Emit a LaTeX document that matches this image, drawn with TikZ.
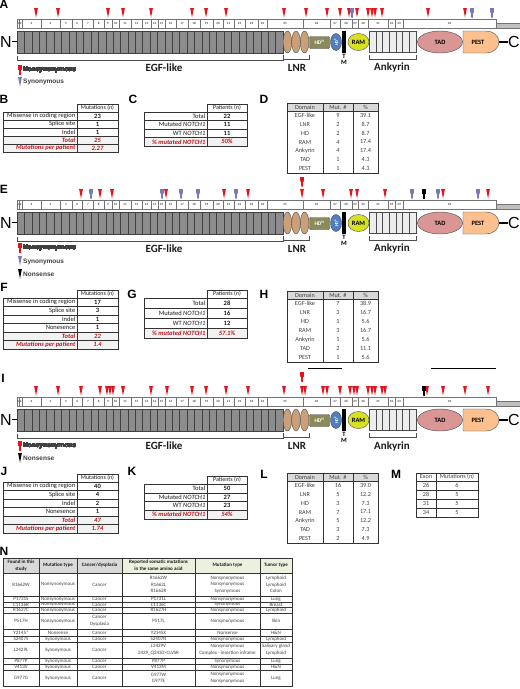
\documentclass[tikz,border=0pt]{standalone}
\usepackage{fontspec}
\setmainfont{Carlito}
\newfontfamily\arialf{Liberation Sans}
\usetikzlibrary{shapes.geometric}
\definecolor{ink}{HTML}{1A1A1A}
\definecolor{mutred}{HTML}{E3141B}
\definecolor{mutblue}{HTML}{7B78B8}
\definecolor{egfgray}{HTML}{8C8C8C}
\definecolor{lnrtan}{HTML}{C9A07A}
\definecolor{hdnolive}{HTML}{8B8A5C}
\definecolor{hdcblue}{HTML}{4F7FC0}
\definecolor{ramyellow}{HTML}{D7E021}
\definecolor{ankgray}{HTML}{EDEDED}
\definecolor{tadpink}{HTML}{D99694}
\definecolor{pestorange}{HTML}{FBC08E}
\definecolor{tailgray}{HTML}{BFBFBF}
\definecolor{totred}{HTML}{C0161C}
\definecolor{rowgray}{HTML}{F2F2F2}
\definecolor{hdrgray}{HTML}{D9D9D9}
\definecolor{hdrgreen}{HTML}{EBF1DE}
\definecolor{txtgray}{HTML}{404040}

\newcommand{\fs}[1]{\fontsize{#1}{#1}\selectfont}
\newcommand{\tot}[1]{\textcolor{totred}{\bfseries\itshape #1}}
\newcommand{\mut}[3]{\fill[#3] ({#1-1.9},#2) -- ({#1+1.9},#2) -- (#1,{#2+9.5}) -- cycle;}

% one NOTCH1 map: exon bar, domains, brackets
\newcommand{\notchmap}[2]{%
\begin{scope}[shift={(0,#1)}]
  \foreach \xa/\xb/\ex in {17/19.5/1,19.5/22/2,22/41/3,41/60/4,60/72/5,72/82.5/6,82.5/93.5/7,93.5/104/8,104/112/9,112/119/10,119/131/11,131/142/12,142/151/13,151/158/14,158/165/15,165/176/16,176/188/17,188/200/18,200/213/19,213/223/20,223/234/21,234/245/22,245/258/23,258/267/24,267/303/25,303/330/26,330/340/27,340/352/28,352/358/29,358/368/30,368/388/31,388/395/32,395/403/33,403/496/34}{
    \draw[exonbox] (\xa,19.5) rectangle (\xb,28);
    \node[exonnum] (ex\ex#2) at ({(\xa+\xb)/2},23.75) {\ex};
  }
  \draw[exonbox,fill=tailgray] (496,22.7) rectangle (520,28);
  \foreach \k in {0,...,35}
    \draw[egfcell] ({17+7.39*\k},31) rectangle ({17+7.39*(\k+1)},53);
  \foreach \cx [count=\j] in {287.4,296,304.6}
    \node[dom,ellipse,fill=lnrtan,minimum width=8.6pt,minimum height=22pt] (lnr\j#2) at (\cx,42) {};
  \node[dom,rounded corners=1pt,fill=hdnolive,minimum width=20pt,minimum height=12pt,font=\fs{5.5}\bfseries,text=white] (hdn#2) at (319.5,42.5) {HD\textsuperscript{N}};
  \node[dom,ellipse,fill=hdcblue,minimum width=17pt,minimum height=11pt,rotate=90,font=\fs{4.5}\bfseries,text=white] (hdc#2) at (336,42) {HD\textsuperscript{C}};
  \node[fill=black,minimum width=4pt,minimum height=22pt,inner sep=0pt] (tm#2) at (344,42) {};
  \node[font=\fs{6.5}\bfseries,inner sep=0pt] (tmt#2) at (344,56) {T};
  \node[font=\fs{6.5}\bfseries,inner sep=0pt] (tmm#2) at (344,62.5) {M};
  \node[dom,ellipse,fill=ramyellow,minimum width=21pt,minimum height=17pt,font=\fs{6.5}\bfseries] (ram#2) at (358.5,42) {RAM};
  \foreach \k in {0,...,6}
    \draw[ankcell] ({369+6.7*\k},31.5) rectangle ({369+6.7*(\k+1)},52.5);
  \node[dom,ellipse,fill=tadpink,minimum width=45pt,minimum height=22pt,font=\fs{6.5}\bfseries] (tad#2) at (440,42) {TAD};
  \draw[dom,fill=pestorange] (463,31) -- (486,31) arc[start angle=90,end angle=-90,x radius=13pt,y radius=11pt] -- (463,53) -- cycle;
  \node[font=\fs{6.5}\bfseries,inner sep=0pt] (pest#2) at (478,42) {PEST};
  \node[font=\arialf\fs{16},inner sep=0pt] (nterm#2) at (6,41.5) {N};
  \coordinate (egfw#2) at (17,41.5);
  \draw[line width=1.2pt] (nterm#2.east) -- (egfw#2);
  \node[font=\arialf\fs{16},inner sep=0pt] (cterm#2) at (514,42) {C};
  \coordinate (peste#2) at (499,42);
  \draw[line width=1.2pt] (peste#2) -- (cterm#2.west);
  \draw[brace] (17,56) -- (17,60.5) -- (283,60.5) -- (283,56);
  \draw[brace] (283,55) -- (283,59) -- (309,59) -- (309,55);
  \draw[brace] (369,55) -- (369,59) -- (416,59) -- (416,55);
  \node[domlabel] (egflab#2) at (164,68) {EGF-like};
  \node[domlabel] (lnrlab#2) at (297,68) {LNR};
  \node[domlabel] (anklab#2) at (392,68) {Ankyrin};
\end{scope}}

% mutations table (B, F, J)
\newcommand{\muttable}[4]{%
  \draw[tabline] (77,#2) rectangle (118,{#2+8});
  \node[cell,font=\fs{6}] (#1hdr) at (97.5,{#2+4}) {Mutations (\textit{n})};
  \foreach \lab/\val/\fc [count=\i] in {#4} {
    \pgfmathsetmacro{\ya}{#2+8+(\i-1)*#3}
    \pgfmathsetmacro{\yb}{#2+8+\i*#3}
    \draw[tabline,fill=\fc] (3,\ya) rectangle (77,\yb);
    \draw[tabline,fill=\fc] (77,\ya) rectangle (118,\yb);
    \node[cell,anchor=east] (#1l\i) at (76,{(\ya+\yb)/2}) {\lab};
    \node[cell,font=\fs{6.5}\bfseries] (#1v\i) at (97.5,{(\ya+\yb)/2}) {\val};
  }
}

% patients table (C, G, K)
\newcommand{\pattable}[4]{%
  \draw[tabline] (207,#2) rectangle (247,{#2+8});
  \node[cell,font=\fs{6}] (#1hdr) at (227,{#2+4}) {Patients (\textit{n})};
  \foreach \lab/\val/\fc [count=\i] in {#4} {
    \pgfmathsetmacro{\ya}{#2+8+(\i-1)*#3}
    \pgfmathsetmacro{\yb}{#2+8+\i*#3}
    \draw[tabline,fill=\fc] (144,\ya) rectangle (207,\yb);
    \draw[tabline,fill=\fc] (207,\ya) rectangle (247,\yb);
    \node[cell,anchor=east] (#1l\i) at (206,{(\ya+\yb)/2}) {\lab};
    \node[cell,font=\fs{6.5}\bfseries] (#1v\i) at (227,{(\ya+\yb)/2}) {\val};
  }
}

% domain table (D, H, L)
\newcommand{\domtable}[4]{%
  \fill[hdrgray] (287,#2) rectangle (378,{#2+8});
  \draw[tabline] (287,#2) rectangle (378,{#2+8+7*#3});
  \draw[tabline] (287,{#2+8}) -- (378,{#2+8});
  \draw[tabline] (323,#2) -- (323,{#2+8+7*#3});
  \draw[tabline] (353,#2) -- (353,{#2+8+7*#3});
  \node[dcell] (#1hd) at (305,{#2+4}) {Domain};
  \node[dcell] (#1hm) at (338,{#2+4}) {Mut. \#};
  \node[dcell] (#1hp) at (365.5,{#2+4}) {\%};
  \foreach \dm/\nm/\pc [count=\i] in {#4} {
    \pgfmathsetmacro{\yc}{#2+8+(\i-0.5)*#3}
    \node[dcell] (#1d\i) at (305,\yc) {\dm};
    \node[dcell] (#1m\i) at (338,\yc) {\nm};
    \node[dcell] (#1p\i) at (365.5,\yc) {\pc};
  }
}

\begin{document}
\begin{tikzpicture}[x=1pt,y=-1pt,
  exonbox/.style={draw=black!55,line width=0.3pt,fill=white},
  exonnum/.style={font=\fs{3.2},inner sep=0pt},
  egfcell/.style={draw=black!75,line width=0.35pt,fill=egfgray},
  ankcell/.style={draw=black!70,line width=0.35pt,fill=ankgray},
  dom/.style={draw=black!70,line width=0.4pt,inner sep=0pt},
  domlabel/.style={font=\fs{11}\bfseries,text=ink,inner sep=0pt},
  brace/.style={draw=black!70,line width=0.5pt},
  tabline/.style={draw=black!80,line width=0.35pt},
  cell/.style={font=\fs{6.5},inner sep=0.5pt,text=ink},
  dcell/.style={font=\fs{6.2},inner sep=0pt,text=txtgray},
  ncell/.style={font=\fontsize{5}{6.7}\selectfont,inner sep=0pt,text=txtgray,align=center},
  panel/.style={font=\arialf\bfseries\fs{12},inner sep=0pt},
  legend/.style={font=\arialf\fs{6.5}\bfseries,anchor=west,inner sep=0pt,text=txtgray}]
\useasboundingbox (0,0) rectangle (520,689);
\fill[white] (0,0) rectangle (520,689);

% ---------- A ----------
\node[panel] (pA) at (4,4) {A};
\notchmap{0}{A}
\foreach \x in {36,58,108,123,151,192,206,226,284,306,327,340,349,357,368,372,375,382,428,465}
  \mut{\x}{8}{mutred}
\foreach \x in {352,472,492}
  \mut{\x}{8}{mutblue}
\mut{20}{65}{mutred}
\node[legend] (lgA1) at (23,70) {Nonsynonymous};
\mut{20}{77}{mutblue}
\node[legend] (lgA2) at (23,82) {Synonymous};

% ---------- B C D ----------
\node[panel] (pB) at (4,99) {B};
\muttable{B}{104}{8}{Missense in coding region/23/white, Splice site/1/white, Indel/1/white, \tot{Total}/\tot{25}/rowgray, \tot{Mutations per patient}/\tot{2.27}/rowgray}
\node[panel] (pC) at (133,99) {C};
\pattable{C}{104}{8.5}{Total/22/white, Mutated \textit{NOTCH1}/11/white, WT \textit{NOTCH1}/11/white, \tot{\% mutated NOTCH1}/\tot{50\%}/rowgray}
\node[panel] (pD) at (264,99) {D};
\domtable{D}{103}{8.86}{EGF-like/9/39.1, LNR/2/8.7, HD/2/8.7, RAM/4/17.4, Ankyrin/4/17.4, TAD/1/4.3, PEST/1/4.3}

% ---------- E ----------
\node[panel] (pE) at (4,189) {E};
\notchmap{181}{E}
\foreach \x in {81,100,112,166,224,248,302,323,351,357,385,443,488}
  \mut{\x}{189}{mutred}
\mut{302}{177}{mutred}
\foreach \x in {91,162,181,198,236,412,438,478}
  \mut{\x}{189}{mutblue}
\mut{424}{189}{black}
\mut{20}{243}{mutred}
\node[legend] (lgE1) at (23,248) {Nonsynonymous};
\mut{20}{256}{mutblue}
\node[legend] (lgE2) at (23,261.5) {Synonymous};
\mut{20}{269}{black}
\node[legend] (lgE3) at (23,274) {Nonsense};

% ---------- F G H ----------
\node[panel] (pF) at (4,287) {F};
\muttable{F}{290}{8.5}{Missense in coding region/17/white, Splice site/3/white, Indel/1/white, Nonesence/1/white, \tot{Total}/\tot{22}/rowgray, \tot{Mutations per patient}/\tot{1.4}/rowgray}
\node[panel] (pG) at (132,294) {G};
\pattable{G}{290}{10}{Total/28/white, Mutated \textit{NOTCH1}/16/white, WT \textit{NOTCH1}/12/white, \tot{\% mutated NOTCH1}/\tot{57.1\%}/rowgray}
\node[panel] (pH) at (264,294) {H};
\domtable{H}{291}{9}{EGF-like/7/38.9, LNR/3/16.7, HD/1/5.6, RAM/3/16.7, Ankyrin/1/5.6, TAD/2/11.1, PEST/1/5.6}

% ---------- I ----------
\draw[line width=0.8pt] (308,368) -- (342,368);
\draw[line width=0.8pt] (431,368) -- (496,368);
\node[panel] (pI) at (3,378) {I};
\notchmap{378}{I}
\foreach \x in {36,58,81,100,107,110,113,123,151,167,192,206,226,248,284,302,305,323,327,340,350,354,357,368,372,375,382,385,427,443,465,488}
  \mut{\x}{386}{mutred}
\mut{302}{372}{mutred}
\mut{424}{386}{black}
\mut{20}{441}{mutred}
\node[legend] (lgI1) at (23,446) {Nonsynonymous};
\mut{20}{453}{black}
\node[legend] (lgI2) at (23,458) {Nonsense};

% ---------- J K L M ----------
\node[panel] (pJ) at (4,471) {J};
\muttable{J}{474}{8.5}{Missense in coding region/40/white, Splice site/4/white, Indel/2/white, Nonesence/1/white, \tot{Total}/\tot{47}/rowgray, \tot{Mutations per patient}/\tot{1.74}/rowgray}
\node[panel] (pK) at (132,471) {K};
\pattable{K}{476}{8.75}{Total/50/white, Mutated \textit{NOTCH1}/27/white, WT \textit{NOTCH1}/23/white, \tot{\% mutated NOTCH1}/\tot{54\%}/rowgray}
\node[panel] (pL) at (264,474) {L};
\domtable{L}{473}{8.86}{EGF-like/16/39.0, LNR/5/12.2, HD/3/7.3, RAM/7/17.1, Ankyrin/5/12.2, TAD/3/7.3, PEST/2/4.9}
\node[panel] (pM) at (396,474) {M};
\draw[tabline] (416,473) rectangle (436,481);
\draw[tabline] (436,473) rectangle (478,481);
\node[dcell] (mh1) at (426,477) {Exon};
\node[dcell] (mh2) at (457,477) {Mutations (\textit{n})};
\foreach \ex/\nm [count=\i] in {26/6,28/5,31/5,34/5} {
  \draw[tabline] (416,{481+9*(\i-1)}) rectangle (436,{481+9*\i});
  \draw[tabline] (436,{481+9*(\i-1)}) rectangle (478,{481+9*\i});
  \node[dcell] (me\i) at (426,{481+9*(\i-0.5)}) {\ex};
  \node[dcell] (mn\i) at (457,{481+9*(\i-0.5)}) {\nm};
}

% ---------- N ----------
\node[panel] (pN) at (4,551) {N};
\foreach \xa/\xb/\hcol/\htxt [count=\j] in {3/39/hdrgray/{Found in this\\study}, 39/77/hdrgray/{Mutation type}, 77/122/hdrgray/{Cancer/dysplasia}, 122/195/hdrgreen/{Reported somatic mutations\\in the same amino acid}, 195/260/hdrgreen/{Mutation type}, 260/292/hdrgreen/{Tumor type}} {
  \draw[tabline,fill=\hcol] (\xa,558) rectangle (\xb,573);
  \node[ncell,font=\fontsize{5}{6.5}\selectfont\bfseries,text=ink] (nh\j) at ({(\xa+\xb)/2},565.5) {\htxt};
}
\foreach \ya/\yb/\nA/\nB/\nC/\nD/\nE/\nF [count=\rw] in {
  573/596/R1662W/Nonsynonymous/Cancer/{R1662W\\R1662L\\R1662R}/{Nonsynonymous\\Nonsynonymous\\Synonymous}/{Lymphoid\\Lymphoid\\Colon},
  596/601.7/P1731S/Nonsynonymous/Cancer/P1731L/Nonsynonymous/Lung,
  601.7/607.3/C1136R/Nonsynonymous/Cancer/C1136C/Synonymous/Breast,
  607.3/612.7/R1627C/Nonsynonymous/Cancer/R1627H/Nonsynonymous/Lymphoid,
  612.7/629.3/P517H/Nonsynonymous/{Cancer\\Dysplasia}/P517L/Nonsynonymous/Skin,
  629.3/636/Y2145*/Nonsense/Cancer/Y2145X/Nonsense/H\&N,
  636/641.7/S2407S/Synonymous/Cancer/S2407N/Nonsynonymous/Lymphoid,
  641.7/658.3/L2429L/Synonymous/Cancer/{L2429V\\2429\_Q2430>CLVSR}/{Nonsynonymous\\Complex - insertion inframe}/{Salivary gland\\Lymphoid},
  658.3/664.3/P877P/Synonymous/Cancer/P877P/Synonymous/Lung,
  664.3/670/V413V/Synonymous/Cancer/V413M/Nonsynonymous/H\&N,
  670/686/G977G/Synonymous/Cancer/{G977W\\G977E}/{Nonsynonymous\\Nonsynonymous}/Lung} {
  \foreach \xa/\xb in {3/39,39/77,77/122,122/195,195/260,260/292}
    \draw[tabline] (\xa,\ya) rectangle (\xb,\yb);
  \node[ncell] (n\rw a) at (21,{(\ya+\yb)/2}) {\nA};
  \node[ncell] (n\rw b) at (58,{(\ya+\yb)/2}) {\nB};
  \node[ncell] (n\rw c) at (99.5,{(\ya+\yb)/2}) {\nC};
  \node[ncell] (n\rw d) at (158.5,{(\ya+\yb)/2}) {\nD};
  \node[ncell] (n\rw e) at (227.5,{(\ya+\yb)/2}) {\nE};
  \node[ncell] (n\rw f) at (276,{(\ya+\yb)/2}) {\nF};
}
\end{tikzpicture}
\end{document}
